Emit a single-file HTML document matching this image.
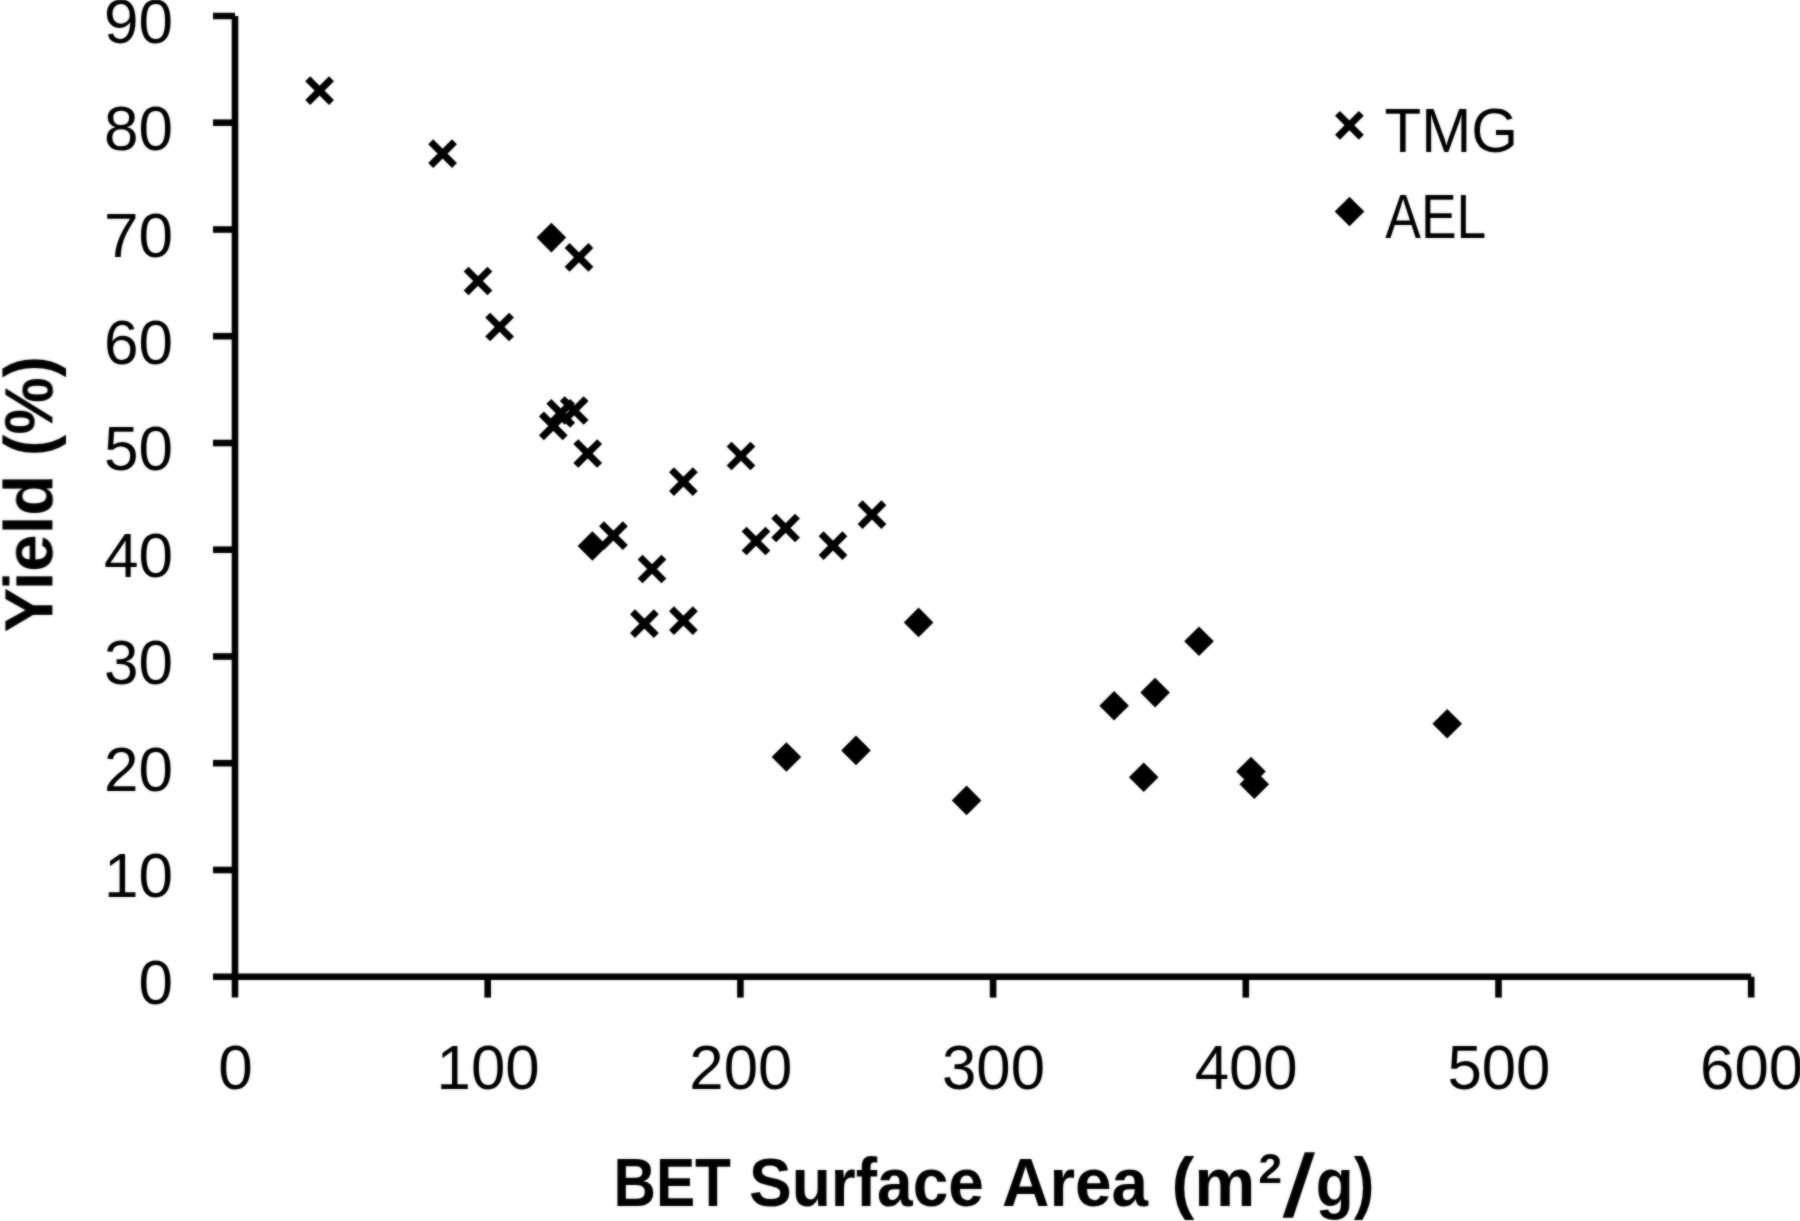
<!DOCTYPE html>
<html lang="en"><head><meta charset="utf-8"><title>Yield vs BET Surface Area</title>
<style>html,body{margin:0;padding:0;background:#fff;}body{width:1800px;height:1221px;overflow:hidden;}svg{display:block;}text{font-family:"Liberation Sans",sans-serif;fill:#000;}.t{font-size:63.6px;}.l{font-size:62.3px;}.b{font-size:68px;font-weight:bold;}.ax{stroke:#000;stroke-width:6.6;fill:none;}.x{stroke:#000;stroke-width:7;fill:none;}.d{fill:#000;}</style></head><body>
<svg width="1800" height="1221" viewBox="0 0 1800 1221">
<defs><filter id="soft" x="0" y="0" width="1800" height="1221" filterUnits="userSpaceOnUse"><feGaussianBlur stdDeviation="0.8" result="b"/><feComposite in="SourceGraphic" in2="b" operator="arithmetic" k1="0" k2="0.45" k3="0.55" k4="0"/></filter></defs>
<rect width="1800" height="1221" fill="#fff"/>
<g filter="url(#soft)">
<g class="ax">
<path d="M213 16H235M235 16V997.6"/>
<path d="M213 976.7H1751.2M1751.2 976.7V997.6"/>
<line x1="213" y1="870.0" x2="235" y2="870.0"/>
<line x1="213" y1="763.2" x2="235" y2="763.2"/>
<line x1="213" y1="656.5" x2="235" y2="656.5"/>
<line x1="213" y1="549.7" x2="235" y2="549.7"/>
<line x1="213" y1="443.0" x2="235" y2="443.0"/>
<line x1="213" y1="336.2" x2="235" y2="336.2"/>
<line x1="213" y1="229.5" x2="235" y2="229.5"/>
<line x1="213" y1="122.7" x2="235" y2="122.7"/>
<line x1="487.7" y1="976.7" x2="487.7" y2="997.6"/>
<line x1="740.4" y1="976.7" x2="740.4" y2="997.6"/>
<line x1="993.1" y1="976.7" x2="993.1" y2="997.6"/>
<line x1="1245.8" y1="976.7" x2="1245.8" y2="997.6"/>
<line x1="1498.5" y1="976.7" x2="1498.5" y2="997.6"/>
</g>
<g class="t" text-anchor="end">
<text x="173" y="1004.0" textLength="34.5" lengthAdjust="spacingAndGlyphs">0</text>
<text x="173" y="897.3" textLength="69" lengthAdjust="spacingAndGlyphs">10</text>
<text x="173" y="790.5" textLength="69" lengthAdjust="spacingAndGlyphs">20</text>
<text x="173" y="683.8" textLength="69" lengthAdjust="spacingAndGlyphs">30</text>
<text x="173" y="577.0" textLength="69" lengthAdjust="spacingAndGlyphs">40</text>
<text x="173" y="470.3" textLength="69" lengthAdjust="spacingAndGlyphs">50</text>
<text x="173" y="363.5" textLength="69" lengthAdjust="spacingAndGlyphs">60</text>
<text x="173" y="256.8" textLength="69" lengthAdjust="spacingAndGlyphs">70</text>
<text x="173" y="150.0" textLength="69" lengthAdjust="spacingAndGlyphs">80</text>
<text x="173" y="43.3" textLength="69" lengthAdjust="spacingAndGlyphs">90</text>
</g>
<g class="t" text-anchor="middle">
<text x="235.4" y="1089.2" textLength="34.5" lengthAdjust="spacingAndGlyphs">0</text>
<text x="488.1" y="1089.2" textLength="103" lengthAdjust="spacingAndGlyphs">100</text>
<text x="740.8" y="1089.2" textLength="103" lengthAdjust="spacingAndGlyphs">200</text>
<text x="993.5" y="1089.2" textLength="103" lengthAdjust="spacingAndGlyphs">300</text>
<text x="1246.2" y="1089.2" textLength="103" lengthAdjust="spacingAndGlyphs">400</text>
<text x="1498.9" y="1089.2" textLength="103" lengthAdjust="spacingAndGlyphs">500</text>
<text x="1751.6" y="1089.2" textLength="103" lengthAdjust="spacingAndGlyphs">600</text>
</g>
<g class="x">
<path d="M307.7 78.7l23.8 23.8m0 -23.8l-23.8 23.8"/>
<path d="M430.7 141.7l23.8 23.8m0 -23.8l-23.8 23.8"/>
<path d="M567.1 245.5l23.8 23.8m0 -23.8l-23.8 23.8"/>
<path d="M466.1 269.1l23.8 23.8m0 -23.8l-23.8 23.8"/>
<path d="M487.7 315.1l23.8 23.8m0 -23.8l-23.8 23.8"/>
<path d="M541.4 414.0l23.8 23.8m0 -23.8l-23.8 23.8"/>
<path d="M548.8 401.4l23.8 23.8m0 -23.8l-23.8 23.8"/>
<path d="M562.3 398.6l23.8 23.8m0 -23.8l-23.8 23.8"/>
<path d="M575.8 441.6l23.8 23.8m0 -23.8l-23.8 23.8"/>
<path d="M729.1 444.1l23.8 23.8m0 -23.8l-23.8 23.8"/>
<path d="M671.5 469.7l23.8 23.8m0 -23.8l-23.8 23.8"/>
<path d="M860.1 502.7l23.8 23.8m0 -23.8l-23.8 23.8"/>
<path d="M773.7 516.1l23.8 23.8m0 -23.8l-23.8 23.8"/>
<path d="M744.1 529.1l23.8 23.8m0 -23.8l-23.8 23.8"/>
<path d="M821.1 533.7l23.8 23.8m0 -23.8l-23.8 23.8"/>
<path d="M601.5 523.7l23.8 23.8m0 -23.8l-23.8 23.8"/>
<path d="M640.1 557.1l23.8 23.8m0 -23.8l-23.8 23.8"/>
<path d="M632.5 611.7l23.8 23.8m0 -23.8l-23.8 23.8"/>
<path d="M671.5 608.7l23.8 23.8m0 -23.8l-23.8 23.8"/>
<path d="M1337.5 113.4l23.8 23.8m0 -23.8l-23.8 23.8"/>
</g>
<g class="d">
<path d="M551.4 222.8l14.8 14.8l-14.8 14.8l-14.8 -14.8z"/>
<path d="M592.4 531.2l14.8 14.8l-14.8 14.8l-14.8 -14.8z"/>
<path d="M918.6 607.6l14.8 14.8l-14.8 14.8l-14.8 -14.8z"/>
<path d="M786.4 742.2l14.8 14.8l-14.8 14.8l-14.8 -14.8z"/>
<path d="M856.0 735.6l14.8 14.8l-14.8 14.8l-14.8 -14.8z"/>
<path d="M966.6 785.6l14.8 14.8l-14.8 14.8l-14.8 -14.8z"/>
<path d="M1199.0 626.5l14.8 14.8l-14.8 14.8l-14.8 -14.8z"/>
<path d="M1155.1 677.8l14.8 14.8l-14.8 14.8l-14.8 -14.8z"/>
<path d="M1114.1 690.9l14.8 14.8l-14.8 14.8l-14.8 -14.8z"/>
<path d="M1143.7 762.5l14.8 14.8l-14.8 14.8l-14.8 -14.8z"/>
<path d="M1251.0 756.7l14.8 14.8l-14.8 14.8l-14.8 -14.8z"/>
<path d="M1254.3 769.5l14.8 14.8l-14.8 14.8l-14.8 -14.8z"/>
<path d="M1447.2 708.9l14.8 14.8l-14.8 14.8l-14.8 -14.8z"/>
<path d="M1349.5 196.7l14.8 14.8l-14.8 14.8l-14.8 -14.8z"/>
</g>
<text class="l" x="1384.5" y="151.5" textLength="133.5" lengthAdjust="spacingAndGlyphs">TMG</text>
<text class="l" x="1385.3" y="238.4" textLength="101" lengthAdjust="spacingAndGlyphs">AEL</text>
<text class="b"><tspan x="613.5" y="1205.8" textLength="117.5" lengthAdjust="spacingAndGlyphs">BET</tspan>
<tspan x="749" y="1205.8" textLength="235" lengthAdjust="spacingAndGlyphs">Surface</tspan>
<tspan x="1002" y="1205.8" textLength="146" lengthAdjust="spacingAndGlyphs">Area</tspan>
<tspan x="1171.4" y="1205.8" textLength="84" lengthAdjust="spacingAndGlyphs">(m</tspan><tspan x="1258.5" y="1182.8" font-size="42" textLength="23.5" lengthAdjust="spacingAndGlyphs">2</tspan></text><text class="b" style="font-size:88px" transform="translate(1282 1215.6) skewX(-8.4)">/</text><text class="b"><tspan x="1315.8" y="1205.8" textLength="58.6" lengthAdjust="spacingAndGlyphs">g)</tspan></text>
<text class="b" transform="translate(52.4 631) rotate(-90)">
<tspan x="-1.6" textLength="158" lengthAdjust="spacingAndGlyphs">Yield</tspan>
<tspan x="175" textLength="100" lengthAdjust="spacingAndGlyphs">(%)</tspan>
</text>
</g>
</svg></body></html>
